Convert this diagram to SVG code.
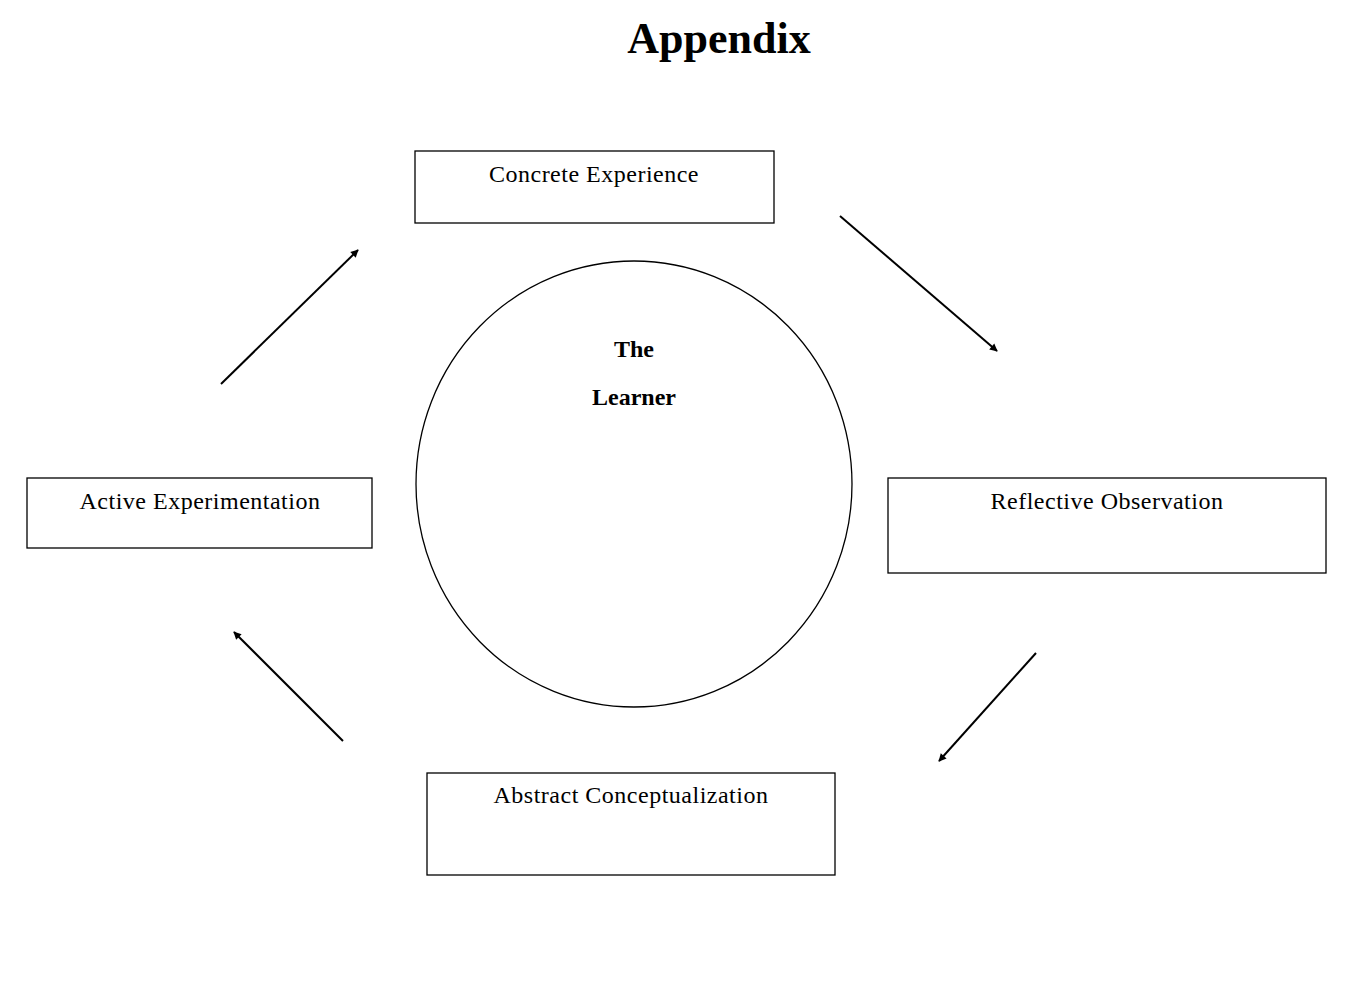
<svg xmlns="http://www.w3.org/2000/svg" width="1349" height="990" viewBox="0 0 1349 990">
<style>
.box{fill:#fff;stroke:#000;stroke-width:1.3}
.lbl{font-family:"Liberation Serif",serif;font-size:24px;fill:#000;text-anchor:middle;letter-spacing:0.5px}
.b{font-family:"Liberation Serif",serif;font-weight:bold;fill:#000;text-anchor:middle}
.c{stroke:#000;stroke-width:2;fill:none;marker-end:url(#a)}
</style>
<defs><marker id="a" viewBox="0 0 10 10" refX="9" refY="5" markerWidth="6" markerHeight="6" orient="auto" markerUnits="userSpaceOnUse" style="overflow:visible"><path d="M0,0L10,5L0,10z" transform="scale(1.3) translate(-2,-1.2)"/></marker></defs>
<rect width="1349" height="990" fill="#fff"/>
<text class="b" x="719" y="53" font-size="44">Appendix</text>
<g id="learner"><ellipse class="box" cx="634" cy="484" rx="218" ry="223"/>
<text class="b" x="634" y="357" font-size="24">The</text>
<text class="b" x="634" y="405" font-size="24">Learner</text></g>
<g id="ce"><rect class="box" x="415" y="151" width="359" height="72"/><text class="lbl" x="594" y="182">Concrete Experience</text></g>
<g id="ro"><rect class="box" x="888" y="478" width="438" height="95"/><text class="lbl" x="1107" y="509">Reflective Observation</text></g>
<g id="ac"><rect class="box" x="427" y="773" width="408" height="102"/><text class="lbl" x="631" y="803">Abstract Conceptualization</text></g>
<g id="ae"><rect class="box" x="27" y="478" width="345" height="70"/><text class="lbl" x="200" y="509">Active Experimentation</text></g>
<g id="connectors">
<line class="c" x1="840" y1="216" x2="997" y2="351"/>
<line class="c" x1="1036" y1="653" x2="939" y2="761"/>
<line class="c" x1="343" y1="741" x2="234" y2="632"/>
<line class="c" x1="221" y1="384" x2="358" y2="250"/>
</g>
</svg>
